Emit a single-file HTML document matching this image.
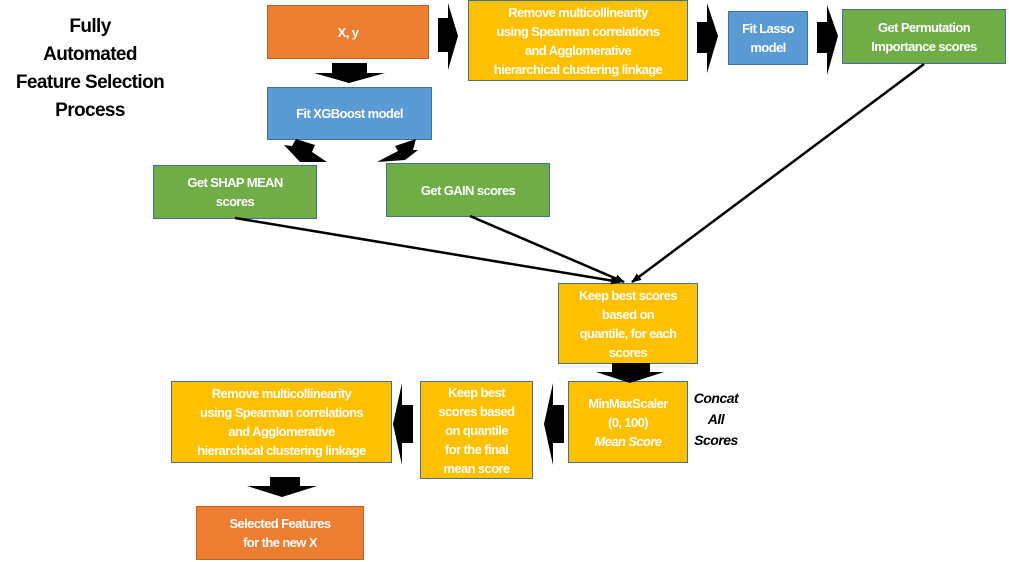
<!DOCTYPE html>
<html><head><meta charset="utf-8"><style>
body{margin:0;width:1009px;height:562px;background:#fff;position:relative;overflow:hidden;font-family:"Liberation Sans",sans-serif;}
.b{position:absolute;box-sizing:border-box;border:1px solid #41719C;color:#fff;font-weight:bold;font-size:13px;line-height:19px;display:flex;align-items:center;justify-content:center;text-align:center;letter-spacing:-0.6px;white-space:nowrap}
.o{background:#ED7D31;border-color:#C0651F}
.y{background:#FFC000}
.bl{background:#5B9BD5}
.g{background:#70AD47}
svg{position:absolute;left:0;top:0}
.t{position:absolute;font-weight:bold;text-align:center;white-space:nowrap}
</style></head><body>
<div class="t" style="left:15px;top:13px;width:150px;font-size:19px;line-height:28px;letter-spacing:-0.6px">Fully<br>Automated<br>Feature Selection<br>Process</div>
<div class="b o" style="left:267px;top:5px;width:162px;height:54px">X, y</div>
<div class="b y" style="left:468px;top:0;width:220px;height:81px"><div>Remove multicollinearity<br>using Spearman correlations<br>and Agglomerative<br>hierarchical clustering linkage</div></div>
<div class="b bl" style="left:728px;top:11px;width:80px;height:54px"><div>Fit Lasso<br>model</div></div>
<div class="b g" style="left:842px;top:9px;width:164px;height:55px"><div>Get Permutation<br>Importance scores</div></div>
<div class="b bl" style="left:267px;top:87px;width:165px;height:53px">Fit XGBoost model</div>
<div class="b g" style="left:153px;top:165px;width:164px;height:54px"><div>Get SHAP MEAN<br>scores</div></div>
<div class="b g" style="left:386px;top:163px;width:164px;height:54px">Get GAIN scores</div>
<div class="b y" style="left:558px;top:283px;width:140px;height:81px"><div>Keep best scores<br>based on<br>quantile, for each<br>scores</div></div>
<div class="b y" style="left:568px;top:381px;width:120px;height:82px"><div>MinMaxScaler<br>(0, 100)<br><i>Mean Score</i></div></div>
<div class="t" style="left:686px;top:388px;width:60px;font-size:14px;line-height:21px;letter-spacing:-0.5px"><i>Concat<br>All<br>Scores</i></div>
<div class="b y" style="left:420px;top:381px;width:113px;height:98px"><div>Keep best<br>scores based<br>on quantile<br>for the final<br>mean score</div></div>
<div class="b y" style="left:171px;top:381px;width:221px;height:82px"><div>Remove multicollinearity<br>using Spearman correlations<br>and Agglomerative<br>hierarchical clustering linkage</div></div>
<div class="b o" style="left:196px;top:506px;width:168px;height:54px"><div>Selected Features<br>for the new X</div></div>
<svg width="1009" height="562">
<defs><marker id="a" markerWidth="10" markerHeight="8" refX="9" refY="4" orient="auto" markerUnits="userSpaceOnUse"><path d="M0,0 L10,4 L0,8 Z" fill="#000"/></marker></defs>
<g fill="#000">
<polygon points="332,63 367,63 367,73 385,73 349,83 314,73 332,73"/>
<polygon points="438,18 448,18 448,3 458,36 448,70 448,52 438,52"/>
<polygon points="697,22 707,22 707,3 718,36 707,73 707,53 697,53"/>
<polygon points="817,22 827,22 827,5 838,36 827,75 827,53 817,53"/>
<polygon points="612,363 650,363 650,372 664,372 630,383 596,372 612,372"/>
<polygon points="270,477 300,477 300,486 317,486 282,497 247,486 270,486"/>
<polygon points="413,405 402,405 402,383 393,424 402,465 402,443 413,443"/>
<polygon points="564,405 553,405 553,383 544,424 553,465 553,443 564,443"/>
<polygon points="296,139 315,145 312,152 327,162 300,162 284,145 292,146"/>
<polygon points="416,139 395,146 398,151 377,162 405,160 418,150 413,150"/>
</g>
<g stroke="#000" stroke-width="2.5" fill="none">
<line x1="235" y1="218" x2="620" y2="282" marker-end="url(#a)"/>
<line x1="470" y1="216" x2="624" y2="282" marker-end="url(#a)"/>
<line x1="924" y1="64" x2="632" y2="282" marker-end="url(#a)"/>
</g>
</svg>
</body></html>
